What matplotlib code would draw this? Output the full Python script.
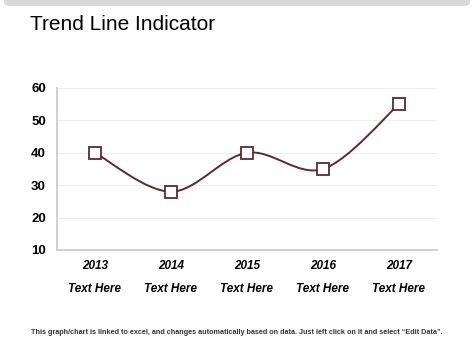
import matplotlib
matplotlib.use("Agg")
import matplotlib.pyplot as plt
from matplotlib.path import Path
from matplotlib.patches import PathPatch, FancyBboxPatch

years = ["2013", "2014", "2015", "2016", "2017"]
values = [40, 28, 40, 35, 55]
notes = ["Text Here"] * 5
yticks = [10, 20, 30, 40, 50, 60]

line_color = "#5b2a2e"
plt.rcParams['font.family'] = ['Liberation Sans', 'DejaVu Sans']

fig = plt.figure(figsize=(4.74, 3.55), dpi=100)
W, H = 474, 355

# grey banner at the top
fig.patches.append(FancyBboxPatch((4 / W, 1 - 6 / H), 466 / W, 20 / H,
                                  boxstyle="round,pad=0,rounding_size=0.012",
                                  transform=fig.transFigure, facecolor="#d9d9d9",
                                  edgecolor="none", zorder=0))

fig.text(30 / W, 1 - 24 / H, "Trend Line Indicator", fontsize=15, va="center", ha="left")

ax = fig.add_axes([57 / W, 1 - 250 / H, 380 / W, 162 / H])
ax.set_xlim(-0.5, len(years) - 0.5)
ax.set_ylim(10, 60)
ax.set_yticks(yticks)
ax.set_yticklabels([str(t) for t in yticks], fontsize=9.5, fontweight="bold")
ax.set_xticks(range(len(years)))
ax.set_xticklabels(years, fontsize=8.5, fontweight="bold", style="italic")
ax.tick_params(length=0, pad=8)
ax.tick_params(axis="x", pad=7)
ax.grid(axis="y", color="#eeeeee", linewidth=0.8)
ax.set_axisbelow(True)
for s in ["top", "right"]:
    ax.spines[s].set_visible(False)
for s in ["left", "bottom"]:
    ax.spines[s].set_color("#c8c8c8")
    ax.spines[s].set_linewidth(1.2)

# smoothed line (Bezier segments through the data points)
pts = list(zip(range(len(values)), values))
verts = [pts[0]]
codes = [Path.MOVETO]
n = len(pts)
for i in range(n - 1):
    p0 = pts[i - 1] if i > 0 else pts[i]
    p1 = pts[i]
    p2 = pts[i + 1]
    p3 = pts[i + 2] if i + 2 < n else pts[i + 1]
    c1 = (p1[0] + (p2[0] - p0[0]) / 6, p1[1] + (p2[1] - p0[1]) / 6)
    c2 = (p2[0] - (p3[0] - p1[0]) / 6, p2[1] - (p3[1] - p1[1]) / 6)
    verts += [c1, c2, p2]
    codes += [Path.CURVE4] * 3
ax.add_patch(PathPatch(Path(verts, codes), facecolor="none", edgecolor=line_color,
                       linewidth=1.4, zorder=3))
ax.plot(range(len(values)), values, linestyle="none", marker="s", markersize=8,
        markerfacecolor="white", markeredgecolor=line_color, markeredgewidth=1.3,
        zorder=4)

for i, t in enumerate(notes):
    ax.text(i, -0.24, t, transform=ax.get_xaxis_transform(), ha="center", va="center",
            fontsize=8.5, fontweight="bold", style="italic")

fig.text(237 / W, 1 - 332 / H,
         "This graph/chart is linked to excel, and changes automatically based on data. "
         "Just left click on it and select \u201cEdit Data\u201d.",
         ha="center", va="center", fontsize=5.2, fontweight="bold", color="#333333")

fig.savefig("out.png", dpi=100)
